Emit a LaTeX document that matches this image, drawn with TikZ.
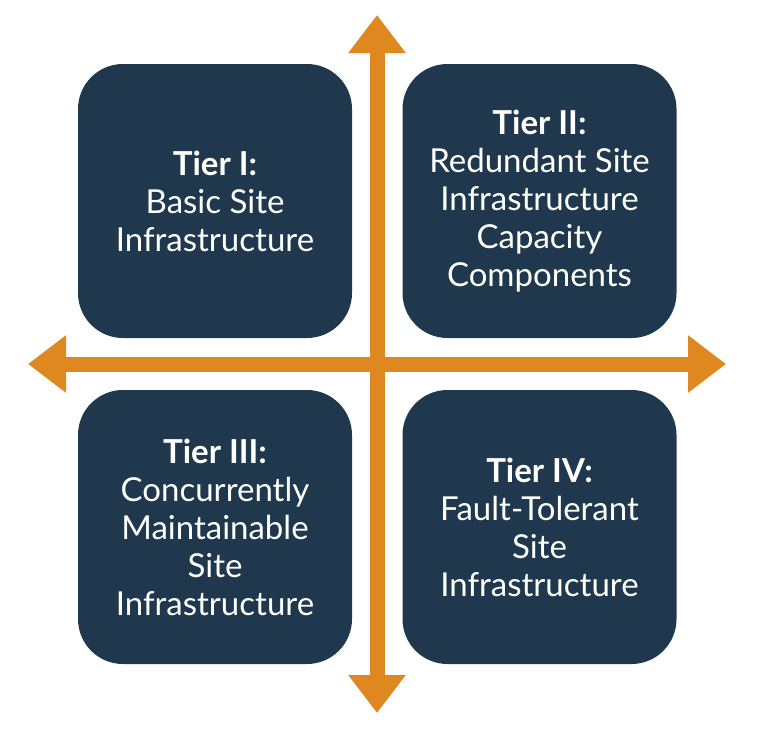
\documentclass[tikz,border=0pt]{standalone}
\usepackage{fontspec}
\setmainfont{Lato}
\usepackage{tikz}
\usetikzlibrary{arrows.meta}
\definecolor{tiernavy}{HTML}{1F384D}
\definecolor{axisorange}{HTML}{E08820}
\tikzset{
  tierbox/.style={fill=tiernavy,rounded corners=45pt,minimum width=274pt,minimum height=274pt,
    inner sep=0pt,text=white,align=center,font=\fontsize{33}{38}\selectfont},
  axis/.style={draw=axisorange,line width=15pt,{Triangle[length=38pt,width=55pt]}-{Triangle[length=38pt,width=55pt]}}
}

\begin{document}
\begin{tikzpicture}[x=1pt,y=-1pt]
    \useasboundingbox (0,0) rectangle (768,748);
    % four tiers
    \node[tierbox] (tier1) at (215,201) {\textbf{Tier I:}\\Basic Site\\Infrastructure};
    \node[tierbox] (tier2) at (539.5,201) {\textbf{Tier II:}\\Redundant Site\\Infrastructure\\Capacity\\Components};
    \node[tierbox] (tier3) at (215,527) {\textbf{Tier III:}\\Concurrently\\Maintainable\\Site\\Infrastructure};
    \node[tierbox] (tier4) at (539.5,527) {\textbf{Tier IV:}\\Fault-Tolerant\\Site\\Infrastructure};
    % axes
    \coordinate (up) at (377,15);
    \coordinate (down) at (377,713);
    \coordinate (left) at (28,364);
    \coordinate (right) at (726,364);
    \draw[axis] (down) -- (up);
    \draw[axis] (left) -- (right);
  \end{tikzpicture}
\end{document}
